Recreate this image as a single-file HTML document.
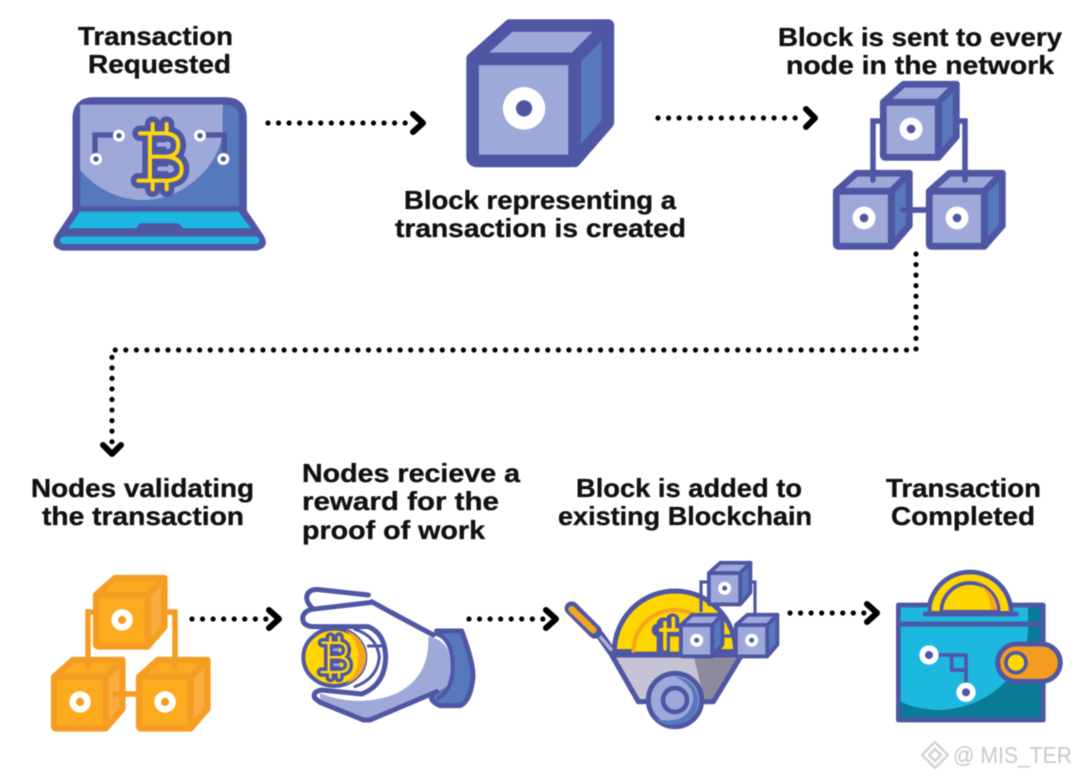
<!DOCTYPE html>
<html><head><meta charset="utf-8"><style>
html,body{margin:0;padding:0;background:#fff}
svg{display:block;filter:blur(.45px)}
.t{font-family:"Liberation Sans",sans-serif;font-weight:700;font-size:26px;fill:#111;stroke:#111;stroke-width:.35px}
.d{fill:none;stroke:#000;stroke-width:5.2;stroke-linecap:round;stroke-dasharray:0 10.55}
.h{fill:none;stroke:#000;stroke-width:6;stroke-linecap:round;stroke-linejoin:round}
.blue{--s:#4f57a5;--f:#9ea9d9;--m:#5678bd;--dot:#4f57a5}
.org{--s:#f59d22;--f:#fcab1f;--m:#f8ad3e;--dot:#f59d22}
</style></head><body>
<svg width="1080" height="780" viewBox="0 0 1080 780" xmlns="http://www.w3.org/2000/svg">
<defs>
<g id="cube" stroke-linejoin="round" stroke-linecap="round">
<path d="M6 39L43 6H140L107 39Z" fill="var(--f)" stroke="var(--s)" stroke-width="12.5"/>
<path d="M140 6V102L107 140V39Z" fill="var(--m)" stroke="var(--s)" stroke-width="12.5"/>
<rect x="6" y="39" width="101" height="101" rx="4" fill="var(--f)" stroke="var(--s)" stroke-width="12.5"/>
<circle cx="57" cy="88" r="21" fill="#fff"/>
<circle cx="57" cy="88" r="8" fill="var(--dot)"/>
</g>
<path id="bp" d="M330 370H405Q445 372 445 405Q445 440 405 440H360M405 440Q455 442 455 478Q455 512 405 512H325M360 370V512M368 342V370M410 342V370M368 512V538M410 512V538"/>
<g id="btc" fill="none" stroke-linecap="round" stroke-linejoin="round">
<use href="#bp" stroke="#4f57a5" stroke-width="46"/>
<path d="M360 370H405V440H360ZM360 440H410V512H360Z" fill="#4f57a5" stroke="#4f57a5" stroke-width="8"/>
<rect x="380" y="397" width="32" height="13" rx="4" fill="#9ea9d9" stroke="none"/>
<rect x="382" y="470" width="34" height="13" rx="4" fill="#9ea9d9" stroke="none"/>
<use href="#bp" stroke="#ffd60a" stroke-width="12"/>
</g>
</defs>

<!-- titles -->
<text class="t" x="78" y="45" textLength="155" lengthAdjust="spacingAndGlyphs">Transaction</text>
<text class="t" x="88" y="73" textLength="143" lengthAdjust="spacingAndGlyphs">Requested</text>
<text class="t" x="404" y="209" textLength="272" lengthAdjust="spacingAndGlyphs">Block representing a</text>
<text class="t" x="395" y="237" textLength="291" lengthAdjust="spacingAndGlyphs">transaction is created</text>
<text class="t" x="778" y="46" textLength="284" lengthAdjust="spacingAndGlyphs">Block is sent to every</text>
<text class="t" x="786" y="74" textLength="268" lengthAdjust="spacingAndGlyphs">node in the network</text>
<text class="t" x="31" y="497" textLength="223" lengthAdjust="spacingAndGlyphs">Nodes validating</text>
<text class="t" x="42" y="525" textLength="202" lengthAdjust="spacingAndGlyphs">the transaction</text>
<text class="t" x="302" y="482" textLength="218" lengthAdjust="spacingAndGlyphs">Nodes recieve a</text>
<text class="t" x="302" y="510" textLength="197" lengthAdjust="spacingAndGlyphs">reward for the</text>
<text class="t" x="302" y="539" textLength="183" lengthAdjust="spacingAndGlyphs">proof of work</text>
<text class="t" x="576" y="497" textLength="226" lengthAdjust="spacingAndGlyphs">Block is added to</text>
<text class="t" x="558" y="525" textLength="254" lengthAdjust="spacingAndGlyphs">existing Blockchain</text>
<text class="t" x="886" y="497" textLength="155" lengthAdjust="spacingAndGlyphs">Transaction</text>
<text class="t" x="891" y="525" textLength="144" lengthAdjust="spacingAndGlyphs">Completed</text>

<!-- connectors -->
<path class="d" d="M268 123H412"/><path class="h" d="M413 114L423 123L413 132"/>
<path class="d" d="M658 118H802"/><path class="h" d="M806 109L815 118L806 127"/>
<path class="d" d="M916 254V350H112V445"/><path class="h" d="M103 445L112 454L121 445"/>
<path class="d" d="M192 619H268"/><path class="h" d="M269 610L279 619L269 628"/>
<path class="d" d="M469 619H545"/><path class="h" d="M546 610L556 619L546 628"/>
<path class="d" d="M790 613H866"/><path class="h" d="M867 604L877 613L867 622"/>

<!-- laptop -->
<g transform="translate(30,10) scale(.3333)">
<path d="M139 600V325Q139 273 192 273H586Q639 273 639 325V600Z" fill="#5678bd" stroke="#4f57a5" stroke-width="23" stroke-linejoin="round"/>
<path d="M150 284H578V375Q560 470 470 530Q410 572 330 570Q225 565 150 480Z" fill="#9ea9d9"/>
<path d="M135 590H643L700 675Q722 712 680 722H98Q56 712 78 675Z" fill="#4f57a5"/>
<path d="M150 605H625L663 655H460L445 640H330L318 655H115Z" fill="#1db8e0"/>
<rect x="90" y="680" width="598" height="22" rx="11" fill="#1db8e0"/>
<path d="M195 445V375H265M510 375H583V445" fill="none" stroke="#4f57a5" stroke-width="16"/>
<g fill="#fff"><circle cx="267" cy="377" r="18"/><circle cx="198" cy="447" r="18"/><circle cx="510" cy="377" r="18"/><circle cx="580" cy="447" r="18"/></g>
<g fill="#4f57a5"><circle cx="267" cy="377" r="8"/><circle cx="198" cy="447" r="8"/><circle cx="510" cy="377" r="8"/><circle cx="580" cy="447" r="8"/></g>
<use href="#btc"/>
</g>

<!-- cubes -->
<use href="#cube" class="blue" transform="translate(466.5,19.5) scale(1.01)"/>
<g class="blue">
<path d="M873 180V121H890M965 180V121H950M903 210H930" fill="none" stroke="#4f57a5" stroke-width="5.5" stroke-linecap="round"/>
<use href="#cube" transform="translate(880,81) scale(.545)"/>
<use href="#cube" transform="translate(833,170) scale(.545)"/>
<use href="#cube" transform="translate(926,170) scale(.545)"/>
<path d="M873 170V180M965 170V180M903 210H928" fill="none" stroke="#4f57a5" stroke-width="5.5" stroke-linecap="round"/>
</g>
<g class="org">
<path d="M88 668V612H100M175 668V612H162M115 694H140" fill="none" stroke="#f59d22" stroke-width="5.5" stroke-linecap="round"/>
<use href="#cube" transform="translate(93,575) scale(.51)"/>
<use href="#cube" transform="translate(51,657) scale(.51)"/>
<use href="#cube" transform="translate(136,657) scale(.51)"/>
<path d="M88 660V668M175 660V668M115 694H137" fill="none" stroke="#f59d22" stroke-width="5.5" stroke-linecap="round"/>
</g>

<!-- hand -->
<g transform="translate(290,570) scale(.3333)" stroke-linejoin="round" stroke-linecap="round">
<path d="M440 183H515Q555 290 548 330Q540 395 510 407H450Q425 395 425 385Z" fill="#5678bd" stroke="#4f57a5" stroke-width="15"/>
<path d="M245 95L430 195Q480 205 490 290Q490 350 440 365L240 450L90 395Q60 370 85 360L210 372Q290 345 290 262Q285 190 235 170L70 170Q35 165 38 145Q40 125 65 115L50 90Q50 60 80 58L230 75Z" fill="#fff"/>
<path d="M415 200Q480 210 488 290Q490 350 440 365L240 450L90 400V370Q210 415 320 370Q420 320 415 200Z" fill="#9ea9d9"/>
<path d="M445 190Q490 220 488 290Q488 360 445 385" fill="none" stroke="#4f57a5" stroke-width="12"/>
<path d="M430 195L290 120L245 95M235 75L80 58Q50 60 50 85Q52 100 65 112M245 97L65 118Q38 125 38 147Q40 168 70 170H235Q285 190 287 262Q285 345 215 372L95 360Q65 365 75 385L90 397L220 450H240L440 365" fill="none" stroke="#4f57a5" stroke-width="15"/>
<path d="M195 178Q262 200 268 262Q262 325 195 350" fill="#fff" stroke="#4f57a5" stroke-width="9"/>
<path d="M235 228H285" fill="none" stroke="#4f57a5" stroke-width="9"/>
<ellipse cx="133" cy="262" rx="93" ry="86" fill="#ffd600" stroke="#4f57a5" stroke-width="12"/>
<path d="M165 180A93 86 0 0 1 165 343Q205 315 205 262Q205 210 165 180Z" fill="#f7a51e"/>
<use href="#btc" transform="translate(-107,-11) scale(.62)"/>
</g>

<!-- wheelbarrow -->
<g transform="translate(550,550) scale(.3333)" stroke-linejoin="round" stroke-linecap="round">
<path d="M193 305A182 182 0 0 1 557 305Z" fill="#ffd600" stroke="#4f57a5" stroke-width="15"/>
<path d="M250 305A125 125 0 0 1 500 305" fill="#ffd600" stroke="#f7a51e" stroke-width="12"/>
<path d="M340 300V222M325 240H385M368 210V235" fill="none" stroke="#4f57a5" stroke-width="40"/>
<path d="M345 296V218M332 240H385M370 205V235" fill="none" stroke="#ffd600" stroke-width="11"/>
<circle cx="376" cy="268" r="6" fill="#ffd600"/>
<path d="M150 255L185 305" stroke="#4f57a5" stroke-width="26" fill="none"/>
<path d="M148 257L183 298" stroke="#aeb0c8" stroke-width="11" fill="none"/>
<path d="M65 175L135 245" stroke="#4f57a5" stroke-width="42" fill="none"/>
<path d="M65 178L130 240" stroke="#f7a51e" stroke-width="20" fill="none"/>
<path d="M185 315H575L490 455H265Z" fill="#c6c4d4" stroke="#4f57a5" stroke-width="15"/>
<path d="M432 322H567L487 448H462Z" fill="#8e8a9e"/>
<path d="M185 315H575L490 455H265Z" fill="none" stroke="#4f57a5" stroke-width="15"/>
<circle cx="375" cy="450" r="80" fill="#9ea9d9" stroke="#4f57a5" stroke-width="15"/>
<path d="M375 380A72 72 0 0 1 390 522Q335 530 320 508Q420 525 430 445Q430 405 375 380Z" fill="#5678bd"/>
<circle cx="375" cy="450" r="36" fill="#9ea9d9" stroke="#4f57a5" stroke-width="14"/>
</g>
<g class="blue">
<path d="M701 612V582H710M755 615V582H748M723 636H735" fill="none" stroke="#4f57a5" stroke-width="3.2"/>
<use href="#cube" transform="translate(707,561) scale(.31)"/>
<use href="#cube" transform="translate(679,613) scale(.31)"/>
<use href="#cube" transform="translate(734,613) scale(.31)"/>
</g>

<!-- wallet -->
<g transform="translate(880,560) scale(.3333)" stroke-linejoin="round" stroke-linecap="round">
<path d="M146 160A124 124 0 0 1 394 160Z" fill="#ffd600" stroke="#4f57a5" stroke-width="14"/>
<path d="M184 155A86 86 0 0 1 356 155Z" fill="#ffd600" stroke="#4f57a5" stroke-width="11"/>
<path d="M300 76A84 84 0 0 1 352 150H332Q332 105 300 76Z" fill="#f7a51e"/>
<path d="M55 135H148V162H396V135H490V480H55Z" fill="#0a7a97" stroke="#4f57a5" stroke-width="14"/>
<path d="M62 142H144V166H400V142H444V185H62Z" fill="#1db8e0"/>
<path d="M62 200H445C445 310 350 450 165 450Q100 445 62 425Z" fill="#1db8e0"/>
<path d="M55 192H490" stroke="#4f57a5" stroke-width="14" fill="none"/>
<path d="M135 162H410" stroke="#4f57a5" stroke-width="14" fill="none"/>
<rect x="353" y="252" width="188" height="112" rx="56" fill="#f39c1f" stroke="#4f57a5" stroke-width="15"/>
<circle cx="408" cy="308" r="30" fill="#ffd600" stroke="#4f57a5" stroke-width="11"/>
<path d="M150 285H258V395M215 285V330H258" fill="none" stroke="#4f57a5" stroke-width="11" stroke-linecap="butt"/>
<circle cx="147" cy="285" r="29" fill="#fff"/><circle cx="147" cy="285" r="12" fill="#4f57a5"/>
<circle cx="258" cy="397" r="29" fill="#fff"/><circle cx="258" cy="397" r="12" fill="#4f57a5"/>
</g>

<!-- watermark -->
<g fill="none" stroke="#d4d4d4" stroke-width="2.6" stroke-linejoin="round">
<path d="M935 742L948 755L935 768L922 755Z"/><path d="M935 749L941 755L935 761L929 755Z"/>
</g>
<text x="953" y="763" font-family="'Liberation Sans',sans-serif" font-size="23" fill="#c9c9c9" textLength="119" lengthAdjust="spacingAndGlyphs">@ MIS_TER</text>
</svg>
</body></html>
